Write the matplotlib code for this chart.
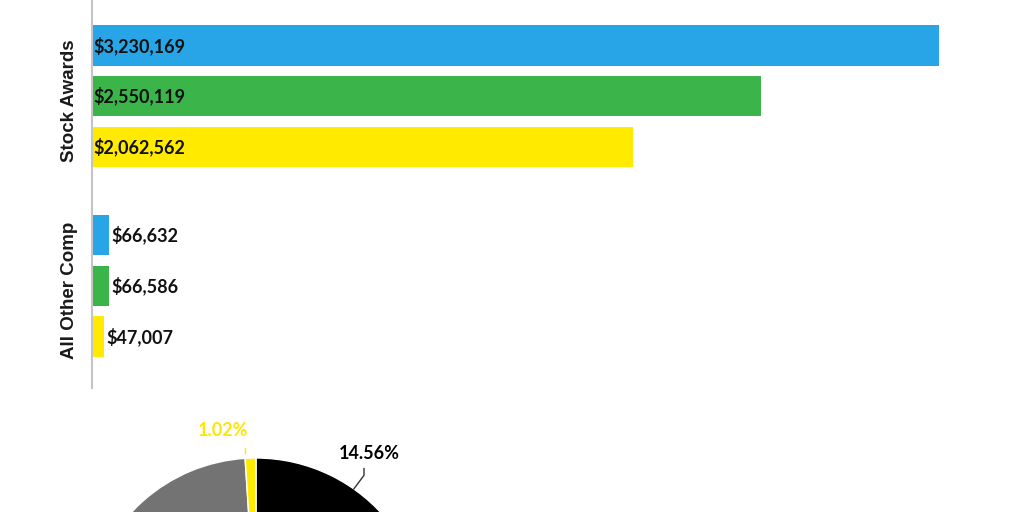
import matplotlib
matplotlib.use("Agg")
import matplotlib.pyplot as plt
import matplotlib.transforms as mtransforms
import numpy as np

# bar data
categories = ["Stock Awards", "All Other Comp"]
series_names = ["Series 1", "Series 2", "Series 3"]
series_colors = ["#27a5e6", "#3bb54a", "#ffea00"]
series_values = [
    [3230169, 66632],
    [2550119, 66586],
    [2062562, 47007],
]

# pie data (only the top of the pie is in view)
pie_labels = ["Salary", "Other", "All Other Comp"]
pie_pcts = [14.56, 84.42, 1.02]
pie_colors = ["#000000", "#737373", "#ffea00"]
pie_text_colors = ["#000000", None, "#ffe600"]

value_font = dict(family="Lato", weight="bold", size=13)

fig = plt.figure(figsize=(10.24, 5.12), dpi=100)

# ---- bars
ax = fig.add_axes([92 / 1024, 124 / 512, 912 / 1024, 393 / 512])
group_gap = 3.75
xmax = 3.478e6
for i, (vals, col) in enumerate(zip(series_values, series_colors)):
    ys = np.arange(len(categories)) * group_gap + i
    bars = ax.barh(ys, vals, height=0.8, color=col)
    for b, v in zip(bars, vals):
        yc = b.get_y() + b.get_height() / 2
        txt = "${:,}".format(v)
        if v > 0.2 * xmax:
            ax.text(xmax * 0.002, yc, txt, va="center", ha="left", color="#111111", **value_font)
        else:
            ax.text(v + xmax * 0.002, yc, txt, va="center", ha="left", color="#111111", **value_font)

ax.set_xlim(0, xmax)
ax.set_ylim(6.77, -1.0)
ax.set_yticks(np.arange(len(categories)) * group_gap + 1)
ax.set_yticklabels(categories, rotation=90, va="center", family="Liberation Sans",
                   weight="bold", fontsize=13.5, color="#1a1a1a")
ax.tick_params(axis="y", length=0, pad=10)
shift = mtransforms.ScaledTranslation(0, -0.045, fig.dpi_scale_trans)
for lab in ax.get_yticklabels():
    lab.set_transform(lab.get_transform() + shift)
ax.set_xticks([])
for s in ["top", "right", "bottom"]:
    ax.spines[s].set_visible(False)
ax.spines["left"].set_color("#c4c4c4")
ax.spines["left"].set_linewidth(1.5)

# ---- pie, mostly below the visible area
r_px = 170
cx, cy = 256, 512 - 628
pax = fig.add_axes([(cx - r_px) / 1024, (cy - r_px) / 512, 2 * r_px / 1024, 2 * r_px / 512])
wedges, _ = pax.pie(pie_pcts, colors=pie_colors, startangle=90, counterclock=False,
                    wedgeprops=dict(edgecolor="white", linewidth=1))
pax.set_xlim(-1, 1)
pax.set_ylim(-1, 1)
pax.set_aspect("equal")
pax.axis("off")

# label for the black slice (connector bends up to the label)
w = wedges[0]
a = np.deg2rad(w.theta1 + 0.33 * (w.theta2 - w.theta1))
x0, y0 = np.cos(a), np.sin(a)
pax.plot([x0, x0 + 0.06, x0 + 0.06], [y0, y0 + 0.08, y0 + 0.12], color="#333333", lw=1,
         clip_on=False)
pax.text(x0 + 0.09, y0 + 0.16, "{:.2f}%".format(pie_pcts[0]), ha="center", va="bottom",
         color=pie_text_colors[0], clip_on=False, **value_font)

# label for the yellow slice
w = wedges[2]
a = np.deg2rad((w.theta1 + w.theta2) / 2)
x0, y0 = np.cos(a) * 1.01, np.sin(a) * 1.01
pax.plot([x0 - 0.03, x0 - 0.03], [y0 + 0.02, y0 + 0.05], color=pie_text_colors[2], lw=1,
         clip_on=False)
pax.text(x0 - 0.01, y0 + 0.1, "{:.2f}%".format(pie_pcts[2]), ha="right", va="bottom",
         color=pie_text_colors[2], clip_on=False, **value_font)

fig.savefig("out.png", dpi=100)
